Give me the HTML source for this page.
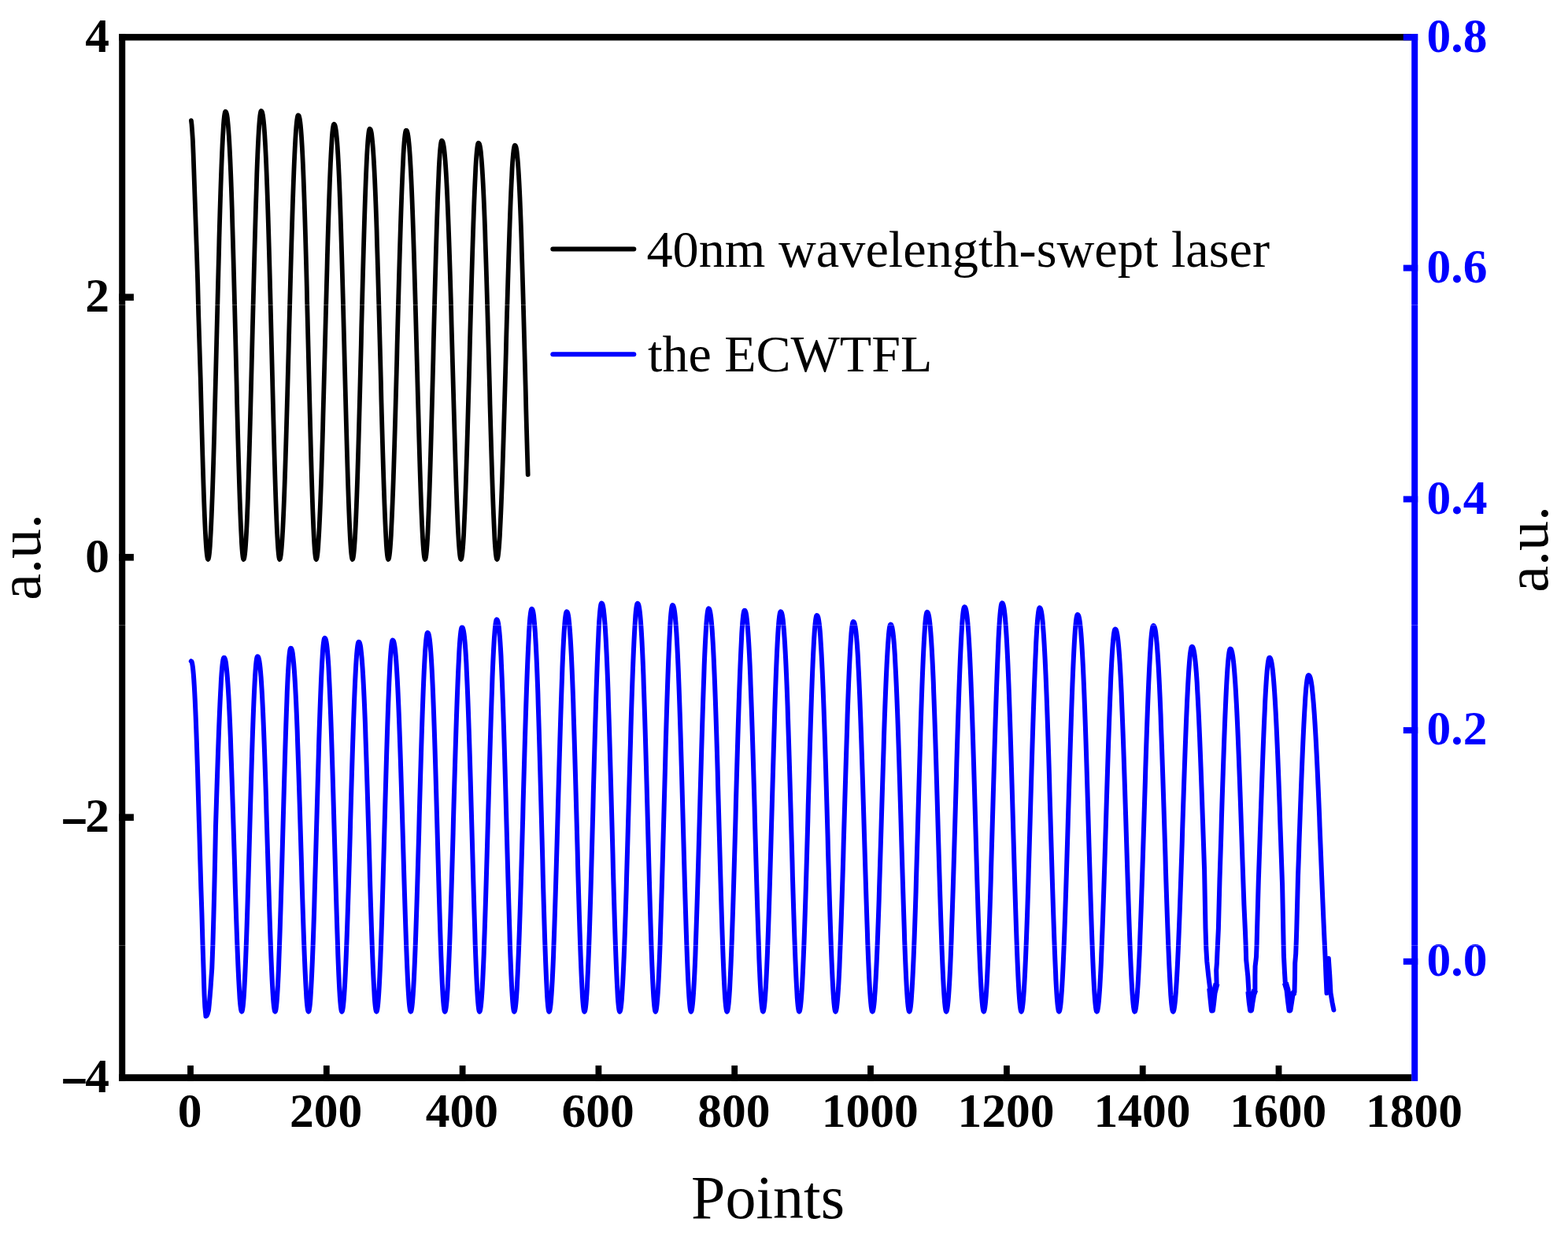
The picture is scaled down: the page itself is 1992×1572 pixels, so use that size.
<!DOCTYPE html>
<html><head><meta charset="utf-8"><title>Points vs a.u.</title>
<style>html,body{margin:0;padding:0;background:#fff;}body{width:1992px;height:1572px;overflow:hidden;}svg{display:block;}</style>
</head><body>
<svg width="1992" height="1572" viewBox="0 0 1992 1572">
<rect width="1992" height="1572" fill="#fff"/>
<path d="M242.9 153.2L243.5 158.0 244.1 166.0 244.9 178.0 245.6 195.0 246.3 215.0 247.5 250.0 248.7 285.0 250.0 322.0 251.2 360.0 252.2 400.0 254.8 482.7 255.3 502.6 255.8 522.1 256.3 541.1 256.8 559.6 257.3 577.3 257.8 594.3 258.3 610.4 258.8 625.6 259.3 639.7 259.8 652.8 260.3 664.6 260.8 675.2 261.3 684.5 261.8 692.5 262.3 699.1 262.8 704.2 263.3 707.9 263.8 710.2 264.3 710.9 264.8 710.2 265.3 708.1 265.8 704.7 266.3 699.9 266.8 693.7 267.2 686.3 267.7 677.6 268.2 667.7 268.7 656.6 269.2 644.3 269.7 631.0 270.2 616.8 270.7 601.5 271.2 585.5 271.7 568.6 272.2 551.1 272.6 532.9 273.1 514.3 273.6 495.2 274.1 475.8 274.6 456.1 275.1 436.3 275.6 416.4 276.1 396.6 276.6 376.9 277.1 357.5 277.6 338.4 278.1 319.8 278.5 301.6 279.0 284.1 279.5 267.2 280.0 251.2 280.5 235.9 281.0 221.7 281.5 208.4 282.0 196.1 282.5 185.0 283.0 175.1 283.5 166.4 283.9 159.0 284.4 152.8 284.9 148.0 285.4 144.6 285.9 142.5 286.4 141.8 286.9 142.0 287.4 142.8 287.9 144.3 288.4 146.6 288.9 149.9 289.3 154.1 289.8 159.2 290.3 165.4 290.8 172.6 291.3 180.8 291.8 190.1 292.3 200.4 292.8 211.8 293.3 224.1 293.8 237.4 294.3 251.7 294.8 266.8 295.2 282.8 295.7 299.5 296.2 316.9 296.7 335.0 297.2 353.6 297.7 372.7 298.2 392.2 298.7 411.9 299.2 431.9 299.7 451.9 300.2 471.9 300.7 491.8 301.1 511.5 301.6 530.8 302.1 549.7 302.6 568.0 303.1 585.6 303.6 602.5 304.1 618.5 304.6 633.5 305.1 647.4 305.6 660.1 306.1 671.6 306.6 681.7 307.0 690.5 307.5 697.7 308.0 703.4 308.5 707.6 309.0 710.1 309.5 710.9 310.0 710.2 310.5 708.1 311.0 704.7 311.5 699.9 312.0 693.7 312.5 686.3 313.0 677.5 313.5 667.6 314.0 656.5 314.5 644.2 315.0 630.9 315.4 616.6 315.9 601.4 316.4 585.3 316.9 568.4 317.4 550.9 317.9 532.7 318.4 514.0 318.9 494.9 319.4 475.4 319.9 455.7 320.4 435.9 320.9 416.0 321.4 396.2 321.9 376.5 322.4 357.0 322.9 337.9 323.4 319.2 323.9 301.0 324.4 283.5 324.9 266.6 325.4 250.5 325.9 235.3 326.3 221.0 326.8 207.7 327.3 195.4 327.8 184.3 328.3 174.4 328.8 165.6 329.3 158.2 329.8 152.0 330.3 147.2 330.8 143.8 331.3 141.7 331.8 141.0 332.3 141.2 332.8 142.0 333.3 143.5 333.8 145.8 334.3 149.1 334.8 153.3 335.3 158.4 335.8 164.6 336.3 171.8 336.8 180.1 337.3 189.4 337.8 199.7 338.3 211.1 338.8 223.4 339.3 236.8 339.8 251.0 340.3 266.2 340.8 282.2 341.3 298.9 341.8 316.4 342.3 334.5 342.8 353.1 343.3 372.2 343.8 391.7 344.3 411.5 344.8 431.5 345.3 451.5 345.8 471.6 346.3 491.5 346.8 511.2 347.3 530.6 347.8 549.5 348.3 567.8 348.8 585.5 349.3 602.3 349.8 618.3 350.3 633.4 350.8 647.3 351.3 660.0 351.8 671.5 352.3 681.7 352.8 690.4 353.3 697.7 353.8 703.4 354.3 707.6 354.8 710.1 355.3 710.9 355.8 710.3 356.3 708.4 356.8 705.2 357.3 700.9 357.8 695.3 358.3 688.5 358.8 680.6 359.3 671.5 359.8 661.3 360.3 650.2 360.8 638.0 361.3 624.9 361.8 610.9 362.3 596.1 362.8 580.5 363.3 564.3 363.8 547.5 364.3 530.1 364.8 512.3 365.3 494.1 365.8 475.6 366.3 456.9 366.8 438.1 367.3 419.2 367.8 400.4 368.3 381.7 368.8 363.2 369.3 345.0 369.8 327.2 370.3 309.8 370.8 293.0 371.3 276.8 371.8 261.2 372.3 246.4 372.8 232.4 373.3 219.3 373.8 207.1 374.3 196.0 374.8 185.8 375.3 176.7 375.8 168.8 376.3 162.0 376.8 156.4 377.3 152.1 377.8 148.9 378.3 147.0 378.8 146.4 379.3 146.6 379.8 147.4 380.3 149.0 380.8 151.4 381.3 154.8 381.8 159.2 382.3 164.5 382.8 171.0 383.3 178.5 383.8 187.0 384.3 196.7 384.8 207.4 385.3 219.2 385.8 232.0 386.3 245.8 386.8 260.5 387.3 276.1 387.8 292.6 388.3 309.9 388.8 327.8 389.3 346.4 389.8 365.5 390.2 385.0 390.7 404.9 391.2 425.1 391.7 445.4 392.2 465.7 392.7 485.9 393.2 505.9 393.7 525.7 394.2 544.9 394.7 563.7 395.2 581.8 395.7 599.1 396.2 615.5 396.7 630.9 397.2 645.3 397.7 658.4 398.2 670.3 398.7 680.7 399.2 689.8 399.7 697.3 400.2 703.2 400.7 707.4 401.2 710.0 401.7 710.9 402.2 710.3 402.7 708.3 403.2 705.1 403.7 700.6 404.2 694.9 404.6 688.0 405.1 679.9 405.6 670.6 406.1 660.3 406.6 648.9 407.1 636.5 407.6 623.1 408.1 608.9 408.6 593.8 409.1 578.0 409.6 561.6 410.1 544.5 410.5 527.0 411.0 509.0 411.5 490.6 412.0 472.0 412.5 453.2 413.0 434.4 413.5 415.5 414.0 396.7 414.5 378.1 415.0 359.7 415.5 341.7 415.9 324.2 416.4 307.1 416.9 290.7 417.4 274.9 417.9 259.8 418.4 245.6 418.9 232.2 419.4 219.8 419.9 208.4 420.4 198.1 420.9 188.8 421.4 180.7 421.8 173.8 422.3 168.1 422.8 163.6 423.3 160.4 423.8 158.4 424.3 157.8 424.8 158.0 425.3 158.8 425.8 160.2 426.3 162.5 426.8 165.6 427.3 169.7 427.8 174.7 428.3 180.7 428.8 187.7 429.3 195.7 429.8 204.8 430.3 214.8 430.8 225.8 431.3 237.8 431.8 250.7 432.3 264.6 432.8 279.3 433.3 294.8 433.8 311.1 434.3 328.0 434.8 345.6 435.3 363.6 435.8 382.2 436.3 401.1 436.8 420.3 437.3 439.7 437.8 459.2 438.3 478.7 438.8 498.0 439.3 517.1 439.8 535.9 440.3 554.2 440.8 572.0 441.3 589.2 441.8 605.5 442.3 621.1 442.8 635.6 443.3 649.2 443.8 661.5 444.3 672.7 444.8 682.6 445.3 691.1 445.8 698.1 446.3 703.7 446.8 707.7 447.3 710.1 447.8 710.9 448.3 710.2 448.8 708.1 449.3 704.6 449.8 699.8 450.3 693.6 450.8 686.2 451.3 677.4 451.8 667.5 452.3 656.3 452.8 644.1 453.3 630.8 453.8 616.5 454.3 601.3 454.8 585.2 455.3 568.4 455.8 551.0 456.3 532.9 456.8 514.4 457.3 495.5 457.8 476.2 458.3 456.8 458.8 437.3 459.2 417.8 459.7 398.4 460.2 379.1 460.7 360.2 461.2 341.7 461.7 323.6 462.2 306.2 462.7 289.4 463.2 273.3 463.7 258.1 464.2 243.8 464.7 230.5 465.2 218.3 465.7 207.1 466.2 197.2 466.7 188.4 467.2 181.0 467.7 174.8 468.2 170.0 468.7 166.5 469.2 164.4 469.7 163.7 470.2 163.9 470.7 164.6 471.2 166.0 471.7 168.1 472.2 171.1 472.6 174.9 473.1 179.7 473.6 185.3 474.1 191.9 474.6 199.5 475.1 208.0 475.6 217.5 476.1 227.9 476.6 239.3 477.1 251.6 477.6 264.7 478.1 278.6 478.6 293.4 479.0 308.9 479.5 325.0 480.0 341.8 480.5 359.1 481.0 376.9 481.5 395.0 482.0 413.5 482.5 432.2 483.0 451.0 483.5 469.9 484.0 488.7 484.4 507.4 484.9 525.8 485.4 543.8 485.9 561.5 486.4 578.5 486.9 594.9 487.4 610.6 487.9 625.4 488.4 639.3 488.9 652.2 489.4 664.0 489.9 674.6 490.4 684.0 490.8 692.1 491.3 698.7 491.8 704.0 492.3 707.8 492.8 710.1 493.3 710.9 493.8 710.3 494.3 708.4 494.8 705.2 495.3 700.8 495.8 695.2 496.3 688.3 496.8 680.3 497.2 671.2 497.7 661.0 498.2 649.7 498.7 637.5 499.2 624.3 499.7 610.3 500.2 595.5 500.7 579.9 501.2 563.7 501.7 546.9 502.2 529.6 502.7 511.8 503.2 493.7 503.7 475.4 504.2 456.9 504.6 438.3 505.1 419.6 505.6 401.1 506.1 382.8 506.6 364.7 507.1 346.9 507.6 329.6 508.1 312.8 508.6 296.6 509.1 281.0 509.6 266.2 510.1 252.2 510.6 239.0 511.1 226.8 511.6 215.5 512.1 205.3 512.5 196.2 513.0 188.2 513.5 181.3 514.0 175.7 514.5 171.3 515.0 168.1 515.5 166.2 516.0 165.6 516.5 165.8 517.0 166.5 517.5 167.9 518.0 170.0 518.5 173.0 519.0 176.8 519.5 181.5 520.0 187.1 520.5 193.7 521.0 201.3 521.5 209.8 522.0 219.2 522.5 229.6 523.0 240.9 523.5 253.2 524.0 266.2 524.5 280.1 525.0 294.8 525.5 310.3 526.0 326.4 526.5 343.1 527.0 360.3 527.5 378.0 528.0 396.1 528.5 414.5 529.0 433.2 529.5 451.9 530.0 470.7 530.5 489.5 531.0 508.1 531.5 526.4 532.0 544.4 532.5 562.0 533.0 579.0 533.5 595.3 534.0 610.9 534.5 625.7 535.0 639.6 535.5 652.4 536.0 664.2 536.5 674.7 537.0 684.1 537.5 692.1 538.0 698.8 538.5 704.0 539.0 707.8 539.5 710.1 540.0 710.9 540.5 710.2 541.0 708.1 541.5 704.5 542.0 699.6 542.5 693.3 543.0 685.7 543.5 676.9 543.9 666.7 544.4 655.4 544.9 643.0 545.4 629.5 545.9 615.0 546.4 599.7 546.9 583.4 547.4 566.5 547.9 548.9 548.4 530.8 548.9 512.1 549.4 493.2 549.9 473.9 550.4 454.6 550.8 435.1 551.3 415.8 551.8 396.5 552.3 377.6 552.8 358.9 553.3 340.8 553.8 323.2 554.3 306.3 554.8 290.0 555.3 274.7 555.8 260.2 556.3 246.7 556.8 234.3 557.3 223.0 557.7 212.8 558.2 204.0 558.7 196.4 559.2 190.1 559.7 185.2 560.2 181.6 560.7 179.5 561.2 178.8 561.7 179.0 562.2 179.6 562.7 180.9 563.2 182.9 563.7 185.7 564.2 189.2 564.7 193.6 565.2 198.9 565.7 205.0 566.2 212.0 566.7 220.0 567.2 228.8 567.7 238.5 568.2 249.1 568.7 260.5 569.2 272.7 569.7 285.8 570.2 299.6 570.7 314.0 571.2 329.2 571.7 344.9 572.2 361.2 572.7 377.9 573.2 395.1 573.6 412.5 574.1 430.2 574.6 448.1 575.1 466.1 575.6 484.0 576.1 501.9 576.6 519.6 577.1 537.0 577.6 554.1 578.1 570.7 578.6 586.8 579.1 602.2 579.6 617.0 580.1 630.9 580.6 643.9 581.1 656.0 581.6 667.1 582.1 677.0 582.6 685.8 583.1 693.3 583.6 699.6 584.1 704.5 584.6 708.0 585.1 710.2 585.6 710.9 586.1 710.3 586.6 708.3 587.1 705.1 587.6 700.6 588.1 694.9 588.6 688.0 589.1 679.9 589.5 670.7 590.0 660.4 590.5 649.0 591.0 636.6 591.5 623.4 592.0 609.2 592.5 594.3 593.0 578.6 593.5 562.3 594.0 545.4 594.5 528.1 595.0 510.3 595.5 492.2 596.0 474.0 596.5 455.5 596.9 437.1 597.4 418.6 597.9 400.4 598.4 382.3 598.9 364.5 599.4 347.2 599.9 330.3 600.4 314.0 600.9 298.3 601.4 283.4 601.9 269.2 602.4 256.0 602.9 243.6 603.4 232.2 603.9 221.9 604.3 212.7 604.8 204.6 605.3 197.7 605.8 192.0 606.3 187.5 606.8 184.3 607.3 182.3 607.8 181.7 608.3 181.9 608.8 182.6 609.3 183.9 609.8 186.0 610.3 188.9 610.8 192.6 611.2 197.1 611.7 202.6 612.2 209.0 612.7 216.3 613.2 224.6 613.7 233.7 614.2 243.8 614.7 254.8 615.2 266.7 615.7 279.4 616.2 292.9 616.6 307.1 617.1 322.1 617.6 337.7 618.1 353.9 618.6 370.7 619.1 387.9 619.6 405.4 620.1 423.3 620.6 441.4 621.1 459.6 621.6 477.8 622.1 496.0 622.5 514.1 623.0 531.9 623.5 549.3 624.0 566.4 624.5 582.9 625.0 598.7 625.5 613.9 626.0 628.2 626.5 641.7 627.0 654.1 627.5 665.5 628.0 675.8 628.4 684.9 628.9 692.7 629.4 699.1 629.9 704.2 630.4 707.9 630.9 710.2 631.4 710.9 631.9 710.3 632.4 708.4 632.9 705.4 633.4 701.1 633.9 695.7 634.4 689.1 634.9 681.4 635.3 672.6 635.8 662.7 636.3 651.9 636.8 640.1 637.3 627.4 637.8 613.8 638.3 599.5 638.8 584.5 639.3 568.8 639.8 552.6 640.3 535.9 640.8 518.8 641.3 501.3 641.8 483.6 642.3 465.8 642.8 447.8 643.2 429.8 643.7 412.0 644.2 394.3 644.7 376.8 645.2 359.7 645.7 343.0 646.2 326.8 646.7 311.1 647.2 296.1 647.7 281.8 648.2 268.2 648.7 255.5 649.2 243.7 649.7 232.9 650.2 223.0 650.6 214.2 651.1 206.5 651.6 199.9 652.1 194.5 652.6 190.2 653.1 187.2 653.6 185.3 654.1 184.7 654.6 184.9 655.1 185.7 655.6 187.1 656.1 189.4 656.6 192.5 657.0 196.6 657.5 201.6 658.0 207.6 658.5 214.6 659.0 222.6 659.5 231.6 660.0 241.6 660.5 252.5 661.0 264.5 661.5 277.3 662.0 291.1 662.5 305.6 662.9 321.0 663.4 337.1 663.9 353.8 664.4 371.1 664.9 388.9 665.4 407.2 665.9 425.7 666.4 444.5 666.9 463.4 667.4 482.3 667.9 501.2 668.3 519.8 668.8 538.2 669.3 556.2 669.8 573.7 670.3 590.5 670.7 603.2" fill="none" stroke="#000" stroke-width="5.8" stroke-linejoin="round" stroke-linecap="round"/>
<path d="M242.8 840.2L243.3 840.5 243.8 841.7 244.3 843.9 244.8 847.2 245.3 851.6 245.8 857.1 246.3 863.8 246.8 871.7 247.3 880.7 247.8 890.9 248.3 902.1 248.8 914.4 249.3 927.7 249.8 941.9 250.3 957.0 250.8 972.9 251.3 989.4 251.8 1006.5 252.3 1024.0 252.8 1042.0 253.1 1050.0 254.2 1090.0 255.4 1130.0 256.4 1160.0 257.5 1200.0 258.5 1230.0 259.1 1250.0 259.6 1265.0 260.4 1280.0 261.5 1291.5 262.6 1290.8 263.8 1288.2 265.0 1284.0 265.8 1276.0 266.6 1267.0 267.5 1256.0 268.4 1243.0 269.3 1230.0 270.4 1200.0 271.4 1165.0 272.3 1130.0 273.2 1090.0 274.0 1050.0 274.6 1031.0 275.1 1015.0 275.6 999.2 276.1 983.8 276.6 968.8 277.1 954.3 277.6 940.3 278.1 926.9 278.6 914.3 279.1 902.4 279.6 891.3 280.1 881.1 280.6 871.8 281.0 863.6 281.5 856.3 282.0 850.1 282.5 844.9 283.0 840.9 283.5 838.0 284.0 836.3 284.5 835.7 285.0 835.9 285.5 836.5 286.0 837.8 286.5 839.7 287.0 842.4 287.4 845.9 287.9 850.2 288.4 855.3 288.9 861.2 289.4 868.1 289.9 875.8 290.4 884.3 290.9 893.7 291.4 903.9 291.9 914.9 292.4 926.6 292.9 939.1 293.3 952.2 293.8 966.0 294.3 980.3 294.8 995.1 295.3 1010.3 295.8 1025.9 296.3 1041.8 296.8 1057.8 297.3 1074.0 297.8 1090.2 298.3 1106.3 298.7 1122.2 299.2 1138.0 299.7 1153.3 300.2 1168.3 300.7 1182.7 301.2 1196.5 301.7 1209.6 302.2 1221.9 302.7 1233.3 303.2 1243.8 303.7 1253.2 304.2 1261.6 304.6 1268.8 305.1 1274.7 305.6 1279.4 306.1 1282.8 306.6 1284.9 307.1 1285.6 307.6 1284.9 308.1 1282.8 308.6 1279.4 309.1 1274.6 309.6 1268.4 310.1 1261.0 310.6 1252.3 311.1 1242.5 311.6 1231.5 312.1 1219.5 312.6 1206.5 313.1 1192.6 313.6 1177.8 314.1 1162.4 314.6 1146.3 315.1 1129.6 315.6 1112.6 316.1 1095.2 316.6 1077.6 317.1 1059.9 317.6 1042.2 318.1 1024.6 318.6 1007.2 319.1 990.2 319.6 973.5 320.1 957.4 320.6 942.0 321.1 927.2 321.6 913.3 322.1 900.3 322.6 888.3 323.1 877.3 323.6 867.5 324.1 858.8 324.6 851.4 325.1 845.2 325.6 840.4 326.1 837.0 326.6 834.9 327.1 834.2 327.6 834.4 328.1 835.1 328.6 836.4 329.1 838.4 329.6 841.3 330.1 844.9 330.6 849.4 331.1 854.8 331.6 861.1 332.1 868.3 332.6 876.4 333.1 885.4 333.6 895.3 334.1 906.0 334.6 917.5 335.1 929.8 335.6 942.9 336.1 956.6 336.6 970.9 337.1 985.8 337.6 1001.2 338.1 1017.0 338.5 1033.1 339.0 1049.5 339.5 1066.0 340.0 1082.6 340.5 1099.2 341.0 1115.7 341.5 1131.9 342.0 1147.8 342.5 1163.3 343.0 1178.2 343.5 1192.6 344.0 1206.2 344.5 1219.0 345.0 1230.9 345.5 1241.8 346.0 1251.7 346.5 1260.4 347.0 1268.0 347.5 1274.2 348.0 1279.2 348.5 1282.7 349.0 1284.9 349.5 1285.6 350.0 1284.9 350.5 1282.8 351.0 1279.2 351.5 1274.3 352.0 1268.0 352.5 1260.4 353.0 1251.6 353.5 1241.5 354.0 1230.3 354.4 1218.0 354.9 1204.6 355.4 1190.4 355.9 1175.3 356.4 1159.5 356.9 1143.0 357.4 1126.0 357.9 1108.6 358.4 1090.8 358.9 1072.8 359.4 1054.7 359.9 1036.5 360.4 1018.5 360.9 1000.7 361.4 983.3 361.9 966.3 362.4 949.8 362.9 934.0 363.4 918.9 363.9 904.7 364.4 891.3 364.8 879.0 365.3 867.8 365.8 857.7 366.3 848.9 366.8 841.3 367.3 835.0 367.8 830.1 368.3 826.5 368.8 824.4 369.3 823.7 369.8 823.9 370.3 824.5 370.8 825.8 371.3 827.8 371.8 830.6 372.2 834.1 372.7 838.5 373.2 843.8 373.7 849.9 374.2 856.9 374.7 864.8 375.2 873.6 375.7 883.3 376.2 893.7 376.7 905.0 377.2 917.1 377.7 929.9 378.1 943.3 378.6 957.5 379.1 972.1 379.6 987.3 380.1 1003.0 380.6 1019.0 381.1 1035.2 381.6 1051.7 382.1 1068.3 382.6 1084.9 383.1 1101.5 383.5 1117.9 384.0 1134.0 384.5 1149.8 385.0 1165.1 385.5 1179.9 386.0 1194.1 386.5 1207.5 387.0 1220.2 387.5 1231.9 388.0 1242.7 388.5 1252.4 389.0 1260.9 389.4 1268.3 389.9 1274.4 390.4 1279.3 390.9 1282.8 391.4 1284.9 391.9 1285.6 392.4 1284.9 392.9 1282.9 393.4 1279.6 393.9 1275.1 394.4 1269.2 394.8 1262.1 395.3 1253.8 395.8 1244.4 396.3 1233.8 396.8 1222.2 397.3 1209.7 397.8 1196.2 398.3 1182.0 398.8 1166.9 399.3 1151.2 399.7 1135.0 400.2 1118.2 400.7 1101.1 401.2 1083.6 401.7 1066.0 402.2 1048.2 402.7 1030.5 403.2 1012.9 403.7 995.4 404.2 978.3 404.7 961.5 405.1 945.3 405.6 929.6 406.1 914.5 406.6 900.3 407.1 886.8 407.6 874.3 408.1 862.7 408.6 852.1 409.1 842.7 409.6 834.4 410.0 827.3 410.5 821.4 411.0 816.9 411.5 813.6 412.0 811.6 412.5 810.9 413.0 811.1 413.5 811.9 414.0 813.3 414.5 815.6 415.0 818.7 415.5 822.8 416.0 827.8 416.5 833.7 417.0 840.7 417.5 848.6 417.9 857.6 418.4 867.5 418.9 878.4 419.4 890.2 419.9 902.8 420.4 916.3 420.9 930.7 421.4 945.7 421.9 961.4 422.4 977.6 422.9 994.4 423.4 1011.6 423.9 1029.1 424.4 1046.8 424.9 1064.6 425.4 1082.5 425.9 1100.2 426.4 1117.8 426.9 1135.0 427.4 1151.8 427.9 1168.1 428.4 1183.7 428.9 1198.6 429.3 1212.6 429.8 1225.6 430.3 1237.6 430.8 1248.4 431.3 1258.0 431.8 1266.2 432.3 1273.1 432.8 1278.5 433.3 1282.4 433.8 1284.8 434.3 1285.6 434.8 1285.0 435.3 1283.1 435.8 1280.0 436.3 1275.6 436.8 1270.1 437.3 1263.4 437.8 1255.5 438.3 1246.6 438.8 1236.6 439.3 1225.6 439.8 1213.7 440.3 1200.9 440.8 1187.4 441.3 1173.0 441.8 1158.1 442.3 1142.5 442.8 1126.5 443.3 1110.1 443.8 1093.3 444.3 1076.3 444.8 1059.2 445.2 1042.1 445.7 1025.0 446.2 1008.0 446.7 991.2 447.2 974.8 447.7 958.8 448.2 943.2 448.7 928.3 449.2 913.9 449.7 900.4 450.2 887.6 450.7 875.7 451.2 864.7 451.7 854.7 452.2 845.8 452.7 837.9 453.2 831.2 453.7 825.7 454.2 821.3 454.7 818.2 455.2 816.3 455.7 815.7 456.2 815.9 456.7 816.6 457.2 817.9 457.7 819.9 458.2 822.7 458.6 826.3 459.1 830.8 459.6 836.1 460.1 842.4 460.6 849.5 461.1 857.6 461.6 866.5 462.1 876.3 462.6 886.9 463.1 898.4 463.6 910.7 464.1 923.7 464.5 937.4 465.0 951.8 465.5 966.7 466.0 982.2 466.5 998.1 467.0 1014.4 467.5 1030.9 468.0 1047.7 468.5 1064.6 469.0 1081.5 469.5 1098.3 469.9 1115.0 470.4 1131.4 470.9 1147.5 471.4 1163.1 471.9 1178.1 472.4 1192.5 472.9 1206.2 473.4 1219.0 473.9 1231.0 474.4 1241.9 474.9 1251.8 475.4 1260.5 475.8 1268.0 476.3 1274.3 476.8 1279.2 477.3 1282.7 477.8 1284.9 478.3 1285.6 478.8 1284.9 479.3 1282.8 479.8 1279.4 480.3 1274.6 480.8 1268.5 481.3 1261.1 481.8 1252.5 482.3 1242.6 482.8 1231.7 483.3 1219.6 483.8 1206.6 484.3 1192.6 484.8 1177.9 485.3 1162.3 485.8 1146.1 486.3 1129.3 486.8 1112.1 487.3 1094.5 487.8 1076.6 488.3 1058.6 488.8 1040.5 489.3 1022.5 489.8 1004.6 490.3 987.0 490.8 969.8 491.3 953.0 491.8 936.8 492.3 921.2 492.8 906.5 493.3 892.5 493.8 879.5 494.3 867.4 494.8 856.5 495.3 846.6 495.8 838.0 496.3 830.6 496.8 824.5 497.3 819.7 497.8 816.3 498.3 814.2 498.8 813.5 499.3 813.7 499.8 814.4 500.3 815.7 500.8 817.7 501.3 820.5 501.8 824.2 502.3 828.7 502.8 834.0 503.3 840.3 503.8 847.5 504.3 855.6 504.8 864.5 505.3 874.4 505.8 885.1 506.3 896.6 506.8 908.9 507.3 922.0 507.8 935.8 508.3 950.2 508.8 965.2 509.3 980.8 509.8 996.7 510.3 1013.1 510.8 1029.7 511.3 1046.6 511.8 1063.5 512.3 1080.5 512.8 1097.4 513.3 1114.2 513.8 1130.7 514.3 1146.8 514.8 1162.5 515.3 1177.6 515.8 1192.1 516.3 1205.8 516.8 1218.7 517.3 1230.7 517.8 1241.7 518.3 1251.6 518.8 1260.4 519.3 1267.9 519.8 1274.2 520.3 1279.1 520.8 1282.7 521.3 1284.9 521.8 1285.6 522.3 1285.0 522.8 1283.0 523.3 1279.8 523.8 1275.4 524.3 1269.7 524.8 1262.8 525.3 1254.8 525.8 1245.6 526.3 1235.4 526.8 1224.1 527.3 1211.9 527.8 1198.8 528.3 1184.9 528.8 1170.2 529.3 1154.9 529.8 1139.0 530.3 1122.5 530.8 1105.7 531.3 1088.5 531.8 1071.1 532.3 1053.6 532.7 1036.0 533.2 1018.5 533.7 1001.1 534.2 983.9 534.7 967.1 535.2 950.6 535.7 934.7 536.2 919.4 536.7 904.7 537.2 890.8 537.7 877.7 538.2 865.5 538.7 854.2 539.2 844.0 539.7 834.8 540.2 826.8 540.7 819.9 541.2 814.2 541.7 809.8 542.2 806.6 542.7 804.6 543.2 804.0 543.7 804.2 544.2 805.0 544.7 806.5 545.2 808.8 545.7 811.9 546.2 816.1 546.7 821.1 547.2 827.2 547.7 834.2 548.2 842.3 548.7 851.4 549.2 861.4 549.7 872.4 550.2 884.4 550.7 897.3 551.2 911.0 551.7 925.5 552.2 940.7 552.7 956.7 553.2 973.2 553.7 990.2 554.2 1007.6 554.7 1025.3 555.2 1043.3 555.7 1061.4 556.2 1079.5 556.7 1097.5 557.2 1115.4 557.7 1132.8 558.2 1149.9 558.7 1166.4 559.2 1182.2 559.7 1197.3 560.2 1211.5 560.7 1224.7 561.2 1236.9 561.7 1247.8 562.2 1257.6 562.7 1265.9 563.2 1272.9 563.7 1278.4 564.2 1282.4 564.7 1284.8 565.2 1285.6 565.7 1285.0 566.2 1283.1 566.7 1280.0 567.2 1275.7 567.7 1270.2 568.2 1263.5 568.7 1255.7 569.1 1246.8 569.6 1236.9 570.1 1226.0 570.6 1214.1 571.1 1201.3 571.6 1187.7 572.1 1173.4 572.6 1158.4 573.1 1142.8 573.6 1126.7 574.1 1110.2 574.6 1093.3 575.1 1076.2 575.6 1058.8 576.0 1041.4 576.5 1024.0 577.0 1006.6 577.5 989.5 578.0 972.6 578.5 956.1 579.0 940.0 579.5 924.4 580.0 909.4 580.5 895.1 581.0 881.5 581.5 868.7 582.0 856.8 582.5 845.9 583.0 836.0 583.4 827.1 583.9 819.3 584.4 812.6 584.9 807.1 585.4 802.8 585.9 799.7 586.4 797.8 586.9 797.2 587.4 797.4 587.9 798.1 588.4 799.6 588.9 801.8 589.4 804.9 589.9 808.8 590.4 813.7 590.9 819.5 591.4 826.3 591.9 834.1 592.4 842.9 592.8 852.6 593.3 863.3 593.8 874.9 594.3 887.3 594.8 900.7 595.3 914.8 595.8 929.6 596.3 945.1 596.8 961.2 597.3 977.9 597.8 995.0 598.3 1012.4 598.8 1030.2 599.3 1048.1 599.8 1066.0 600.3 1083.9 600.8 1101.7 601.3 1119.3 601.8 1136.5 602.3 1153.2 602.8 1169.4 603.3 1184.9 603.7 1199.7 604.2 1213.5 604.7 1226.4 605.2 1238.3 605.7 1248.9 606.2 1258.4 606.7 1266.5 607.2 1273.3 607.7 1278.6 608.2 1282.5 608.7 1284.8 609.2 1285.6 609.7 1285.0 610.2 1283.1 610.7 1279.9 611.2 1275.5 611.7 1269.9 612.2 1263.1 612.7 1255.1 613.2 1246.1 613.7 1235.9 614.2 1224.8 614.7 1212.6 615.1 1199.6 615.6 1185.8 616.1 1171.2 616.6 1155.9 617.1 1140.0 617.6 1123.6 618.1 1106.7 618.6 1089.5 619.1 1072.0 619.6 1054.3 620.1 1036.5 620.6 1018.7 621.1 1001.0 621.6 983.5 622.1 966.3 622.6 949.4 623.1 933.0 623.6 917.1 624.1 901.8 624.6 887.2 625.1 873.4 625.5 860.4 626.0 848.2 626.5 837.1 627.0 826.9 627.5 817.9 628.0 809.9 628.5 803.1 629.0 797.5 629.5 793.1 630.0 789.9 630.5 788.0 631.0 787.4 631.5 787.6 632.0 788.4 632.5 789.8 633.0 792.1 633.5 795.2 634.0 799.2 634.5 804.2 635.0 810.2 635.5 817.1 636.0 825.1 636.5 834.0 636.9 843.9 637.4 854.8 637.9 866.6 638.4 879.3 638.9 892.9 639.4 907.3 639.9 922.5 640.4 938.3 640.9 954.7 641.4 971.7 641.9 989.2 642.4 1007.0 642.9 1025.0 643.4 1043.3 643.9 1061.6 644.4 1079.9 644.9 1098.1 645.4 1116.0 645.9 1133.5 646.4 1150.6 646.9 1167.1 647.4 1182.9 647.8 1197.9 648.3 1212.1 648.8 1225.2 649.3 1237.3 649.8 1248.2 650.3 1257.8 650.8 1266.1 651.3 1273.0 651.8 1278.5 652.3 1282.4 652.8 1284.8 653.3 1285.6 653.8 1285.0 654.3 1283.1 654.8 1280.0 655.3 1275.7 655.8 1270.2 656.3 1263.5 656.8 1255.7 657.2 1246.7 657.7 1236.7 658.2 1225.7 658.7 1213.8 659.2 1200.9 659.7 1187.3 660.2 1172.8 660.7 1157.7 661.2 1141.9 661.7 1125.6 662.2 1108.8 662.7 1091.6 663.2 1074.2 663.7 1056.5 664.2 1038.7 664.6 1020.8 665.1 1003.0 665.6 985.3 666.1 967.9 666.6 950.7 667.1 933.9 667.6 917.6 668.1 901.8 668.6 886.7 669.1 872.2 669.6 858.6 670.1 845.7 670.6 833.8 671.1 822.8 671.6 812.8 672.0 803.8 672.5 796.0 673.0 789.3 673.5 783.8 674.0 779.5 674.5 776.4 675.0 774.5 675.5 773.9 676.0 774.1 676.5 774.9 677.0 776.4 677.5 778.7 678.0 781.9 678.4 786.1 678.9 791.2 679.4 797.3 679.9 804.4 680.4 812.6 680.9 821.8 681.4 832.0 681.9 843.1 682.4 855.3 682.9 868.3 683.4 882.3 683.8 897.1 684.3 912.6 684.8 928.9 685.3 945.8 685.8 963.2 686.3 981.1 686.8 999.4 687.3 1018.0 687.8 1036.7 688.3 1055.5 688.8 1074.3 689.3 1093.0 689.7 1111.4 690.2 1129.4 690.7 1146.9 691.2 1163.9 691.7 1180.1 692.2 1195.6 692.7 1210.1 693.2 1223.6 693.7 1236.0 694.2 1247.2 694.7 1257.1 695.1 1265.6 695.6 1272.7 696.1 1278.3 696.6 1282.3 697.1 1284.8 697.6 1285.6 698.1 1285.0 698.6 1283.1 699.1 1280.0 699.6 1275.8 700.1 1270.3 700.6 1263.6 701.1 1255.9 701.6 1247.0 702.1 1237.1 702.6 1226.1 703.1 1214.3 703.5 1201.5 704.0 1187.9 704.5 1173.6 705.0 1158.5 705.5 1142.9 706.0 1126.7 706.5 1110.0 707.0 1092.9 707.5 1075.6 708.0 1058.0 708.5 1040.3 709.0 1022.6 709.5 1004.9 710.0 987.3 710.5 970.0 711.0 952.9 711.5 936.2 712.0 920.0 712.5 904.4 713.0 889.3 713.5 875.0 714.0 861.4 714.4 848.6 714.9 836.8 715.4 825.8 715.9 815.9 716.4 807.0 716.9 799.3 717.4 792.6 717.9 787.1 718.4 782.9 718.9 779.8 719.4 777.9 719.9 777.3 720.4 777.5 720.9 778.2 721.4 779.6 721.9 781.8 722.4 784.9 722.8 788.8 723.3 793.6 723.8 799.4 724.3 806.2 724.8 813.9 725.3 822.6 725.8 832.2 726.3 842.8 726.8 854.4 727.3 866.8 727.8 880.0 728.3 894.1 728.7 909.0 729.2 924.5 729.7 940.7 730.2 957.4 730.7 974.6 731.2 992.2 731.7 1010.1 732.2 1028.2 732.7 1046.5 733.2 1064.8 733.7 1083.0 734.1 1101.0 734.6 1118.8 735.1 1136.2 735.6 1153.0 736.1 1169.3 736.6 1184.9 737.1 1199.7 737.6 1213.6 738.1 1226.5 738.6 1238.3 739.1 1249.0 739.6 1258.4 740.0 1266.6 740.5 1273.3 741.0 1278.6 741.5 1282.5 742.0 1284.8 742.5 1285.6 743.0 1284.9 743.5 1283.0 744.0 1279.7 744.5 1275.1 745.0 1269.2 745.5 1262.1 746.0 1253.9 746.4 1244.4 746.9 1233.8 747.4 1222.2 747.9 1209.6 748.4 1196.0 748.9 1181.6 749.4 1166.4 749.9 1150.4 750.4 1133.9 750.9 1116.8 751.4 1099.2 751.9 1081.2 752.4 1063.0 752.9 1044.6 753.4 1026.0 753.8 1007.5 754.3 989.1 754.8 970.9 755.3 952.9 755.8 935.3 756.3 918.2 756.8 901.7 757.3 885.7 757.8 870.5 758.3 856.1 758.8 842.5 759.3 829.9 759.8 818.3 760.3 807.7 760.7 798.2 761.2 790.0 761.7 782.9 762.2 777.0 762.7 772.4 763.2 769.1 763.7 767.2 764.2 766.5 764.7 766.7 765.2 767.4 765.7 768.8 766.2 770.9 766.7 773.9 767.1 777.7 767.6 782.4 768.1 788.0 768.6 794.6 769.1 802.1 769.6 810.6 770.1 820.0 770.6 830.3 771.1 841.6 771.6 853.7 772.1 866.7 772.6 880.5 773.0 895.1 773.5 910.3 774.0 926.2 774.5 942.7 775.0 959.7 775.5 977.1 776.0 994.9 776.5 1012.9 777.0 1031.1 777.5 1049.4 778.0 1067.6 778.5 1085.8 778.9 1103.7 779.4 1121.3 779.9 1138.6 780.4 1155.3 780.9 1171.3 781.4 1186.7 781.9 1201.3 782.4 1215.0 782.9 1227.7 783.4 1239.3 783.9 1249.8 784.4 1259.0 784.8 1267.0 785.3 1273.6 785.8 1278.8 786.3 1282.6 786.8 1284.8 787.3 1285.6 787.8 1285.0 788.3 1283.2 788.8 1280.2 789.3 1276.0 789.8 1270.6 790.2 1264.1 790.7 1256.5 791.2 1247.8 791.7 1238.1 792.2 1227.4 792.7 1215.8 793.2 1203.3 793.7 1189.9 794.2 1175.8 794.7 1161.0 795.2 1145.5 795.7 1129.5 796.1 1113.1 796.6 1096.2 797.1 1079.0 797.6 1061.5 798.1 1043.9 798.6 1026.2 799.1 1008.5 799.6 990.9 800.1 973.4 800.6 956.2 801.1 939.3 801.5 922.9 802.0 906.9 802.5 891.4 803.0 876.6 803.5 862.5 804.0 849.1 804.5 836.6 805.0 825.0 805.5 814.3 806.0 804.6 806.5 795.9 807.0 788.3 807.4 781.8 807.9 776.4 808.4 772.2 808.9 769.2 809.4 767.4 809.9 766.8 810.4 767.0 810.9 767.7 811.4 769.2 811.9 771.4 812.4 774.5 812.9 778.5 813.4 783.5 813.9 789.4 814.4 796.3 814.9 804.1 815.4 813.0 815.9 822.9 816.4 833.7 816.9 845.5 817.4 858.1 817.8 871.7 818.3 886.0 818.8 901.2 819.3 917.0 819.8 933.5 820.3 950.6 820.8 968.2 821.3 986.1 821.8 1004.4 822.3 1022.9 822.8 1041.6 823.3 1060.2 823.8 1078.8 824.3 1097.2 824.8 1115.3 825.3 1133.1 825.8 1150.3 826.3 1166.9 826.8 1182.8 827.3 1197.9 827.8 1212.1 828.3 1225.3 828.8 1237.4 829.3 1248.3 829.8 1257.9 830.3 1266.2 830.8 1273.1 831.3 1278.5 831.8 1282.4 832.3 1284.8 832.8 1285.6 833.2 1284.9 833.7 1283.0 834.2 1279.7 834.7 1275.1 835.2 1269.3 835.7 1262.3 836.2 1254.0 836.7 1244.6 837.2 1234.1 837.7 1222.5 838.2 1210.0 838.7 1196.5 839.1 1182.1 839.6 1167.0 840.1 1151.1 840.6 1134.6 841.1 1117.6 841.6 1100.1 842.1 1082.2 842.6 1064.1 843.1 1045.8 843.6 1027.3 844.1 1008.9 844.6 990.6 845.1 972.5 845.5 954.6 846.0 937.1 846.5 920.1 847.0 903.6 847.5 887.7 848.0 872.6 848.5 858.2 849.0 844.7 849.5 832.2 850.0 820.6 850.5 810.1 851.0 800.7 851.4 792.4 851.9 785.4 852.4 779.6 852.9 775.0 853.4 771.7 853.9 769.8 854.4 769.1 854.9 769.3 855.4 770.0 855.9 771.4 856.4 773.5 856.9 776.4 857.4 780.2 857.9 784.9 858.4 790.5 858.9 797.0 859.4 804.5 859.9 813.0 860.4 822.3 860.9 832.6 861.4 843.8 861.9 855.9 862.4 868.8 862.9 882.5 863.4 897.0 863.9 912.2 864.4 928.0 864.9 944.4 865.4 961.3 865.9 978.7 866.4 996.3 866.9 1014.3 867.4 1032.4 867.9 1050.6 868.4 1068.7 868.9 1086.8 869.4 1104.6 869.9 1122.2 870.4 1139.3 870.9 1155.9 871.4 1171.9 871.9 1187.2 872.4 1201.7 872.9 1215.3 873.4 1227.9 873.9 1239.5 874.4 1249.9 874.9 1259.1 875.4 1267.1 875.9 1273.6 876.4 1278.8 876.9 1282.6 877.4 1284.8 877.9 1285.6 878.4 1285.0 878.9 1283.1 879.4 1280.0 879.9 1275.7 880.4 1270.2 880.9 1263.5 881.4 1255.6 881.9 1246.7 882.4 1236.7 882.9 1225.7 883.4 1213.7 883.8 1200.9 884.3 1187.2 884.8 1172.7 885.3 1157.5 885.8 1141.8 886.3 1125.4 886.8 1108.6 887.3 1091.5 887.8 1074.0 888.3 1056.3 888.8 1038.4 889.3 1020.6 889.8 1002.7 890.3 985.0 890.8 967.5 891.3 950.4 891.8 933.6 892.3 917.2 892.8 901.5 893.3 886.3 893.8 871.8 894.3 858.1 894.7 845.3 895.2 833.3 895.7 822.3 896.2 812.3 896.7 803.4 897.2 795.5 897.7 788.8 898.2 783.3 898.7 779.0 899.2 775.9 899.7 774.0 900.2 773.4 900.7 773.6 901.2 774.3 901.7 775.7 902.2 777.8 902.7 780.7 903.2 784.4 903.7 789.1 904.2 794.6 904.7 801.1 905.2 808.5 905.7 816.9 906.2 826.2 906.7 836.4 907.2 847.5 907.7 859.5 908.2 872.3 908.7 885.9 909.2 900.3 909.7 915.3 910.2 931.0 910.7 947.3 911.2 964.0 911.7 981.2 912.1 998.7 912.6 1016.5 913.1 1034.5 913.6 1052.5 914.1 1070.5 914.6 1088.4 915.1 1106.1 915.6 1123.5 916.1 1140.5 916.6 1157.0 917.1 1172.9 917.6 1188.0 918.1 1202.4 918.6 1215.9 919.1 1228.4 919.6 1239.9 920.1 1250.2 920.6 1259.4 921.1 1267.2 921.6 1273.7 922.1 1278.9 922.6 1282.6 923.1 1284.8 923.6 1285.6 924.1 1285.0 924.6 1283.1 925.1 1280.0 925.6 1275.7 926.1 1270.2 926.6 1263.6 927.1 1255.8 927.5 1246.9 928.0 1236.9 928.5 1226.0 929.0 1214.0 929.5 1201.2 930.0 1187.6 930.5 1173.2 931.0 1158.1 931.5 1142.4 932.0 1126.2 932.5 1109.4 933.0 1092.3 933.5 1074.9 934.0 1057.3 934.5 1039.5 934.9 1021.8 935.4 1004.0 935.9 986.4 936.4 969.0 936.9 951.9 937.4 935.1 937.9 918.9 938.4 903.2 938.9 888.1 939.4 873.7 939.9 860.1 940.4 847.3 940.9 835.3 941.4 824.4 941.9 814.4 942.3 805.5 942.8 797.7 943.3 791.1 943.8 785.6 944.3 781.3 944.8 778.2 945.3 776.3 945.8 775.7 946.3 775.9 946.8 776.5 947.3 777.8 947.8 779.8 948.3 782.6 948.7 786.2 949.2 790.6 949.7 795.8 950.2 802.0 950.7 809.1 951.2 817.0 951.7 825.8 952.2 835.6 952.7 846.1 953.2 857.6 953.6 869.8 954.1 882.8 954.6 896.5 955.1 911.0 955.6 926.0 956.1 941.6 956.6 957.8 957.1 974.3 957.6 991.3 958.1 1008.5 958.6 1025.9 959.0 1043.5 959.5 1061.0 960.0 1078.6 960.5 1096.0 961.0 1113.1 961.5 1129.9 962.0 1146.3 962.5 1162.2 963.0 1177.5 963.5 1192.1 964.0 1205.9 964.4 1218.9 964.9 1230.9 965.4 1241.9 965.9 1251.8 966.4 1260.5 966.9 1268.0 967.4 1274.3 967.9 1279.2 968.4 1282.7 968.9 1284.9 969.4 1285.6 969.8 1285.0 970.3 1283.1 970.8 1280.0 971.3 1275.8 971.8 1270.3 972.3 1263.6 972.8 1255.9 973.3 1247.0 973.8 1237.1 974.3 1226.1 974.8 1214.3 975.3 1201.5 975.8 1187.9 976.3 1173.6 976.8 1158.5 977.3 1142.9 977.8 1126.7 978.3 1110.0 978.8 1092.9 979.3 1075.6 979.8 1058.0 980.3 1040.3 980.8 1022.6 981.3 1004.9 981.8 987.3 982.3 970.0 982.8 952.9 983.3 936.2 983.8 920.0 984.2 904.4 984.7 889.3 985.2 875.0 985.7 861.4 986.2 848.6 986.7 836.8 987.2 825.8 987.7 815.9 988.2 807.0 988.7 799.3 989.2 792.6 989.7 787.1 990.2 782.9 990.7 779.8 991.2 777.9 991.7 777.3 992.2 777.5 992.7 778.1 993.2 779.4 993.7 781.4 994.2 784.2 994.7 787.7 995.1 792.1 995.6 797.4 996.1 803.5 996.6 810.6 997.1 818.5 997.6 827.3 998.1 837.0 998.6 847.5 999.1 858.9 999.6 871.1 1000.1 884.1 1000.6 897.8 1001.0 912.1 1001.5 927.1 1002.0 942.7 1002.5 958.8 1003.0 975.3 1003.5 992.2 1004.0 1009.3 1004.5 1026.7 1005.0 1044.2 1005.5 1061.7 1006.0 1079.2 1006.5 1096.6 1006.9 1113.7 1007.4 1130.4 1007.9 1146.8 1008.4 1162.6 1008.9 1177.9 1009.4 1192.4 1009.9 1206.2 1010.4 1219.1 1010.9 1231.1 1011.4 1242.0 1011.9 1251.9 1012.4 1260.6 1012.8 1268.1 1013.3 1274.3 1013.8 1279.2 1014.3 1282.7 1014.8 1284.9 1015.3 1285.6 1015.8 1285.0 1016.3 1283.1 1016.8 1280.1 1017.3 1275.8 1017.8 1270.4 1018.3 1263.8 1018.8 1256.1 1019.3 1247.3 1019.8 1237.5 1020.3 1226.7 1020.8 1214.9 1021.3 1202.3 1021.8 1188.8 1022.3 1174.6 1022.8 1159.7 1023.3 1144.2 1023.8 1128.1 1024.3 1111.6 1024.8 1094.7 1025.3 1077.5 1025.8 1060.1 1026.3 1042.6 1026.7 1025.0 1027.2 1007.5 1027.7 990.1 1028.2 972.9 1028.7 956.0 1029.2 939.5 1029.7 923.4 1030.2 907.9 1030.7 893.0 1031.2 878.8 1031.7 865.3 1032.2 852.7 1032.7 840.9 1033.2 830.1 1033.7 820.3 1034.2 811.5 1034.7 803.8 1035.2 797.2 1035.7 791.8 1036.2 787.5 1036.7 784.5 1037.2 782.6 1037.7 782.0 1038.2 782.2 1038.7 782.8 1039.2 784.1 1039.7 786.1 1040.2 788.8 1040.7 792.3 1041.2 796.7 1041.7 801.9 1042.2 808.0 1042.6 814.9 1043.1 822.8 1043.6 831.5 1044.1 841.1 1044.6 851.6 1045.1 862.9 1045.6 874.9 1046.1 887.8 1046.6 901.4 1047.1 915.6 1047.6 930.5 1048.1 945.9 1048.6 961.8 1049.1 978.2 1049.6 994.9 1050.1 1011.9 1050.6 1029.1 1051.1 1046.4 1051.6 1063.8 1052.0 1081.1 1052.5 1098.3 1053.0 1115.2 1053.5 1131.9 1054.0 1148.1 1054.5 1163.8 1055.0 1178.9 1055.5 1193.3 1056.0 1206.9 1056.5 1219.7 1057.0 1231.6 1057.5 1242.4 1058.0 1252.2 1058.5 1260.8 1059.0 1268.3 1059.5 1274.4 1060.0 1279.3 1060.5 1282.8 1061.0 1284.9 1061.4 1285.6 1061.9 1285.0 1062.4 1283.3 1062.9 1280.4 1063.4 1276.4 1063.9 1271.3 1064.4 1265.1 1064.9 1257.8 1065.4 1249.5 1065.9 1240.2 1066.4 1230.0 1066.8 1218.9 1067.3 1206.9 1067.8 1194.2 1068.3 1180.7 1068.8 1166.6 1069.3 1151.8 1069.8 1136.5 1070.3 1120.8 1070.8 1104.7 1071.3 1088.2 1071.7 1071.5 1072.2 1054.7 1072.7 1037.8 1073.2 1020.9 1073.7 1004.1 1074.2 987.4 1074.7 970.9 1075.2 954.8 1075.7 939.1 1076.2 923.8 1076.6 909.0 1077.1 894.9 1077.6 881.4 1078.1 868.7 1078.6 856.7 1079.1 845.6 1079.6 835.4 1080.1 826.1 1080.6 817.8 1081.1 810.5 1081.5 804.3 1082.0 799.2 1082.5 795.2 1083.0 792.3 1083.5 790.6 1084.0 790.0 1084.5 790.2 1085.0 790.8 1085.5 792.0 1086.0 793.8 1086.5 796.4 1087.0 799.7 1087.5 803.8 1088.0 808.7 1088.5 814.4 1089.0 821.0 1089.5 828.3 1090.0 836.6 1090.4 845.6 1090.9 855.4 1091.4 866.1 1091.9 877.5 1092.4 889.6 1092.9 902.5 1093.4 916.0 1093.9 930.1 1094.4 944.7 1094.9 959.9 1095.4 975.5 1095.9 991.4 1096.4 1007.7 1096.9 1024.2 1097.4 1040.8 1097.9 1057.6 1098.4 1074.3 1098.9 1090.9 1099.4 1107.4 1099.9 1123.7 1100.4 1139.6 1100.9 1155.0 1101.4 1170.0 1101.9 1184.4 1102.3 1198.1 1102.8 1211.1 1103.3 1223.2 1103.8 1234.5 1104.3 1244.8 1104.8 1254.0 1105.3 1262.2 1105.8 1269.2 1106.3 1275.0 1106.8 1279.6 1107.3 1282.9 1107.8 1284.9 1108.3 1285.6 1108.8 1285.1 1109.3 1283.4 1109.8 1280.7 1110.3 1276.9 1110.8 1272.0 1111.2 1266.1 1111.7 1259.2 1112.2 1251.3 1112.7 1242.4 1113.2 1232.6 1113.7 1222.0 1114.2 1210.6 1114.7 1198.4 1115.2 1185.5 1115.7 1171.9 1116.2 1157.8 1116.7 1143.1 1117.1 1128.0 1117.6 1112.4 1118.1 1096.6 1118.6 1080.5 1119.1 1064.2 1119.6 1047.8 1120.1 1031.3 1120.6 1014.9 1121.1 998.6 1121.6 982.5 1122.1 966.7 1122.6 951.1 1123.0 936.0 1123.5 921.3 1124.0 907.2 1124.5 893.6 1125.0 880.7 1125.5 868.5 1126.0 857.1 1126.5 846.5 1127.0 836.7 1127.5 827.8 1128.0 819.9 1128.5 813.0 1128.9 807.1 1129.4 802.2 1129.9 798.4 1130.4 795.7 1130.9 794.0 1131.4 793.5 1131.9 793.7 1132.4 794.3 1132.9 795.6 1133.4 797.5 1133.9 800.2 1134.4 803.6 1134.9 807.9 1135.4 812.9 1135.9 818.9 1136.4 825.7 1136.9 833.4 1137.3 841.9 1137.8 851.3 1138.3 861.5 1138.8 872.5 1139.3 884.3 1139.8 896.9 1140.3 910.1 1140.8 924.0 1141.3 938.6 1141.8 953.6 1142.3 969.2 1142.8 985.2 1143.3 1001.5 1143.8 1018.2 1144.3 1035.0 1144.8 1051.9 1145.3 1068.9 1145.8 1085.8 1146.3 1102.6 1146.8 1119.1 1147.3 1135.4 1147.8 1151.2 1148.3 1166.5 1148.8 1181.3 1149.2 1195.4 1149.7 1208.7 1150.2 1221.2 1150.7 1232.8 1151.2 1243.4 1151.7 1253.0 1152.2 1261.4 1152.7 1268.7 1153.2 1274.7 1153.7 1279.4 1154.2 1282.8 1154.7 1284.9 1155.2 1285.6 1155.7 1285.0 1156.2 1283.2 1156.7 1280.3 1157.2 1276.2 1157.7 1270.9 1158.1 1264.6 1158.6 1257.1 1159.1 1248.6 1159.6 1239.1 1160.1 1228.7 1160.6 1217.3 1161.1 1205.0 1161.6 1192.0 1162.1 1178.1 1162.6 1163.6 1163.1 1148.5 1163.6 1132.9 1164.0 1116.8 1164.5 1100.2 1165.0 1083.4 1165.5 1066.3 1166.0 1049.1 1166.5 1031.8 1167.0 1014.4 1167.5 997.2 1168.0 980.1 1168.5 963.3 1169.0 946.7 1169.4 930.6 1169.9 915.0 1170.4 899.9 1170.9 885.4 1171.4 871.5 1171.9 858.5 1172.4 846.2 1172.9 834.8 1173.4 824.4 1173.9 814.9 1174.4 806.4 1174.9 798.9 1175.3 792.6 1175.8 787.3 1176.3 783.2 1176.8 780.3 1177.3 778.5 1177.8 777.9 1178.3 778.1 1178.8 778.7 1179.3 779.9 1179.8 781.8 1180.3 784.4 1180.8 787.8 1181.3 792.0 1181.8 797.0 1182.3 802.9 1182.8 809.6 1183.3 817.2 1183.8 825.6 1184.3 834.9 1184.8 844.9 1185.3 855.8 1185.8 867.5 1186.2 880.0 1186.7 893.1 1187.2 906.9 1187.7 921.4 1188.2 936.4 1188.7 951.9 1189.2 967.9 1189.7 984.2 1190.2 1000.9 1190.7 1017.8 1191.2 1034.9 1191.7 1052.0 1192.2 1069.1 1192.7 1086.2 1193.2 1103.1 1193.7 1119.7 1194.2 1136.0 1194.7 1151.8 1195.2 1167.2 1195.7 1181.9 1196.2 1196.0 1196.7 1209.3 1197.2 1221.7 1197.7 1233.2 1198.2 1243.8 1198.7 1253.3 1199.2 1261.6 1199.7 1268.8 1200.2 1274.8 1200.7 1279.5 1201.2 1282.9 1201.7 1284.9 1202.1 1285.6 1202.6 1285.0 1203.1 1283.3 1203.6 1280.4 1204.1 1276.5 1204.6 1271.4 1205.1 1265.2 1205.6 1258.0 1206.1 1249.7 1206.6 1240.5 1207.1 1230.3 1207.6 1219.2 1208.1 1207.2 1208.6 1194.5 1209.0 1181.0 1209.5 1166.8 1210.0 1152.0 1210.5 1136.7 1211.0 1120.9 1211.5 1104.6 1212.0 1088.1 1212.5 1071.2 1213.0 1054.2 1213.5 1037.0 1214.0 1019.9 1214.5 1002.7 1215.0 985.7 1215.4 968.8 1215.9 952.3 1216.4 936.0 1216.9 920.2 1217.4 904.9 1217.9 890.1 1218.4 875.9 1218.9 862.4 1219.4 849.7 1219.9 837.7 1220.4 826.6 1220.9 816.4 1221.4 807.2 1221.9 798.9 1222.3 791.7 1222.8 785.5 1223.3 780.4 1223.8 776.5 1224.3 773.6 1224.8 771.9 1225.3 771.3 1225.8 771.5 1226.3 772.1 1226.8 773.4 1227.3 775.3 1227.8 777.9 1228.3 781.4 1228.8 785.6 1229.3 790.7 1229.8 796.6 1230.3 803.4 1230.8 811.1 1231.3 819.6 1231.8 829.0 1232.3 839.2 1232.8 850.3 1233.3 862.1 1233.8 874.7 1234.3 888.0 1234.8 902.0 1235.3 916.6 1235.8 931.9 1236.3 947.6 1236.8 963.8 1237.3 980.3 1237.8 997.2 1238.3 1014.3 1238.8 1031.6 1239.3 1049.0 1239.8 1066.3 1240.3 1083.6 1240.8 1100.7 1241.3 1117.6 1241.8 1134.0 1242.3 1150.1 1242.8 1165.6 1243.3 1180.6 1243.8 1194.8 1244.3 1208.3 1244.8 1220.9 1245.3 1232.6 1245.8 1243.2 1246.3 1252.8 1246.8 1261.3 1247.3 1268.6 1247.8 1274.6 1248.3 1279.4 1248.8 1282.8 1249.3 1284.9 1249.8 1285.6 1250.2 1285.0 1250.7 1283.3 1251.2 1280.4 1251.7 1276.4 1252.2 1271.2 1252.7 1265.0 1253.2 1257.7 1253.7 1249.4 1254.2 1240.0 1254.7 1229.7 1255.2 1218.5 1255.7 1206.5 1256.2 1193.6 1256.7 1180.0 1257.2 1165.7 1257.7 1150.7 1258.2 1135.2 1258.7 1119.3 1259.1 1102.9 1259.6 1086.1 1260.1 1069.1 1260.6 1051.9 1261.1 1034.6 1261.6 1017.3 1262.1 1000.0 1262.6 982.8 1263.1 965.8 1263.6 949.0 1264.1 932.6 1264.6 916.7 1265.1 901.2 1265.6 886.2 1266.1 871.9 1266.6 858.3 1267.1 845.4 1267.6 833.4 1268.1 822.2 1268.5 811.9 1269.0 802.5 1269.5 794.2 1270.0 786.9 1270.5 780.7 1271.0 775.5 1271.5 771.5 1272.0 768.6 1272.5 766.9 1273.0 766.3 1273.5 766.5 1274.0 767.1 1274.5 768.4 1275.0 770.3 1275.5 773.0 1276.0 776.5 1276.5 780.7 1277.0 785.9 1277.5 791.9 1278.0 798.7 1278.5 806.5 1279.0 815.1 1279.5 824.6 1280.0 834.9 1280.5 846.0 1281.0 858.0 1281.5 870.7 1282.0 884.2 1282.5 898.3 1283.0 913.1 1283.5 928.4 1284.0 944.3 1284.5 960.6 1285.0 977.3 1285.5 994.4 1286.0 1011.7 1286.5 1029.1 1287.0 1046.7 1287.5 1064.2 1288.0 1081.6 1288.5 1098.9 1289.0 1115.9 1289.5 1132.6 1290.0 1148.8 1290.5 1164.5 1291.0 1179.6 1291.5 1193.9 1292.0 1207.5 1292.5 1220.2 1293.0 1232.0 1293.5 1242.8 1294.0 1252.5 1294.5 1261.1 1295.0 1268.4 1295.5 1274.5 1296.0 1279.3 1296.5 1282.8 1297.0 1284.9 1297.4 1285.6 1297.9 1285.0 1298.4 1283.3 1298.9 1280.5 1299.4 1276.5 1299.9 1271.4 1300.4 1265.2 1300.9 1258.0 1301.4 1249.8 1301.9 1240.6 1302.4 1230.4 1302.9 1219.3 1303.4 1207.4 1303.9 1194.7 1304.4 1181.2 1304.9 1167.1 1305.4 1152.3 1305.9 1137.0 1306.4 1121.2 1306.8 1105.0 1307.3 1088.5 1307.8 1071.7 1308.3 1054.7 1308.8 1037.6 1309.3 1020.4 1309.8 1003.3 1310.3 986.3 1310.8 969.5 1311.3 953.0 1311.8 936.8 1312.3 921.0 1312.8 905.7 1313.3 890.9 1313.8 876.8 1314.3 863.3 1314.8 850.6 1315.3 838.7 1315.8 827.6 1316.2 817.4 1316.7 808.2 1317.2 800.0 1317.7 792.8 1318.2 786.6 1318.7 781.5 1319.2 777.5 1319.7 774.7 1320.2 773.0 1320.7 772.4 1321.2 772.6 1321.7 773.2 1322.2 774.4 1322.7 776.2 1323.2 778.7 1323.7 782.0 1324.2 786.0 1324.7 790.9 1325.1 796.5 1325.6 803.0 1326.1 810.3 1326.6 818.5 1327.1 827.5 1327.6 837.2 1328.1 847.8 1328.6 859.1 1329.1 871.2 1329.6 884.0 1330.1 897.5 1330.6 911.5 1331.1 926.2 1331.6 941.3 1332.1 957.0 1332.6 973.0 1333.1 989.4 1333.5 1006.0 1334.0 1022.8 1334.5 1039.8 1335.0 1056.8 1335.5 1073.7 1336.0 1090.5 1336.5 1107.2 1337.0 1123.6 1337.5 1139.6 1338.0 1155.1 1338.5 1170.1 1339.0 1184.6 1339.5 1198.3 1340.0 1211.3 1340.5 1223.4 1341.0 1234.7 1341.4 1244.9 1341.9 1254.2 1342.4 1262.3 1342.9 1269.3 1343.4 1275.1 1343.9 1279.6 1344.4 1282.9 1344.9 1284.9 1345.4 1285.6 1345.9 1285.0 1346.4 1283.3 1346.9 1280.5 1347.4 1276.6 1347.9 1271.6 1348.4 1265.6 1348.9 1258.5 1349.4 1250.4 1349.9 1241.3 1350.4 1231.3 1350.9 1220.4 1351.4 1208.7 1351.9 1196.2 1352.4 1183.0 1352.9 1169.1 1353.4 1154.6 1353.9 1139.5 1354.4 1124.0 1354.9 1108.1 1355.4 1091.8 1355.9 1075.3 1356.4 1058.6 1356.9 1041.7 1357.4 1024.9 1357.9 1008.0 1358.4 991.3 1358.9 974.8 1359.4 958.5 1359.9 942.6 1360.4 927.1 1360.9 912.0 1361.4 897.5 1361.9 883.6 1362.4 870.4 1362.9 857.9 1363.4 846.2 1363.9 835.3 1364.4 825.3 1364.9 816.2 1365.4 808.1 1365.9 801.0 1366.4 795.0 1366.9 790.0 1367.4 786.1 1367.9 783.3 1368.4 781.6 1368.9 781.0 1369.4 781.2 1369.9 781.8 1370.4 783.0 1370.9 784.9 1371.4 787.5 1371.9 790.9 1372.4 795.0 1372.9 800.0 1373.4 805.8 1373.9 812.5 1374.4 820.0 1374.9 828.4 1375.4 837.6 1375.9 847.6 1376.4 858.5 1376.9 870.1 1377.4 882.4 1377.9 895.5 1378.4 909.3 1378.9 923.6 1379.4 938.5 1379.9 954.0 1380.4 969.8 1380.9 986.1 1381.4 1002.6 1381.9 1019.4 1382.4 1036.4 1382.9 1053.4 1383.4 1070.5 1383.9 1087.4 1384.4 1104.2 1384.9 1120.7 1385.4 1136.9 1385.9 1152.7 1386.4 1167.9 1386.9 1182.6 1387.4 1196.5 1387.9 1209.7 1388.4 1222.1 1388.9 1233.6 1389.4 1244.0 1389.9 1253.5 1390.4 1261.8 1390.9 1268.9 1391.4 1274.8 1391.9 1279.5 1392.4 1282.9 1392.9 1284.9 1393.4 1285.6 1393.9 1285.1 1394.4 1283.4 1394.9 1280.7 1395.4 1277.0 1395.9 1272.2 1396.4 1266.3 1396.9 1259.5 1397.4 1251.7 1397.9 1242.9 1398.4 1233.3 1398.9 1222.8 1399.3 1211.5 1399.8 1199.5 1400.3 1186.7 1400.8 1173.3 1401.3 1159.4 1401.8 1144.9 1402.3 1129.9 1402.8 1114.6 1403.3 1098.9 1403.8 1083.0 1404.3 1066.9 1404.8 1050.7 1405.3 1034.4 1405.8 1018.2 1406.3 1002.1 1406.8 986.2 1407.3 970.5 1407.8 955.2 1408.3 940.2 1408.8 925.7 1409.3 911.8 1409.8 898.4 1410.3 885.6 1410.8 873.6 1411.2 862.3 1411.7 851.8 1412.2 842.2 1412.7 833.4 1413.2 825.6 1413.7 818.8 1414.2 812.9 1414.7 808.1 1415.2 804.4 1415.7 801.7 1416.2 800.0 1416.7 799.5 1417.2 799.6 1417.7 800.2 1418.2 801.4 1418.7 803.1 1419.2 805.5 1419.7 808.6 1420.2 812.4 1420.7 817.0 1421.2 822.4 1421.7 828.5 1422.2 835.4 1422.7 843.2 1423.2 851.6 1423.7 860.9 1424.2 870.9 1424.7 881.7 1425.1 893.1 1425.6 905.2 1426.1 918.0 1426.6 931.3 1427.1 945.2 1427.6 959.5 1428.1 974.3 1428.6 989.5 1429.1 1005.0 1429.6 1020.8 1430.1 1036.7 1430.6 1052.7 1431.1 1068.8 1431.6 1084.9 1432.1 1100.8 1432.6 1116.6 1433.1 1132.1 1433.6 1147.3 1434.1 1162.0 1434.6 1176.2 1435.1 1189.9 1435.6 1202.9 1436.1 1215.2 1436.6 1226.7 1437.1 1237.3 1437.6 1247.1 1438.1 1255.8 1438.6 1263.5 1439.1 1270.1 1439.6 1275.6 1440.1 1280.0 1440.6 1283.1 1441.1 1285.0 1441.5 1285.6 1442.0 1285.1 1442.5 1283.5 1443.0 1280.9 1443.5 1277.2 1444.0 1272.6 1444.5 1266.9 1445.0 1260.3 1445.5 1252.7 1446.0 1244.3 1446.5 1234.9 1447.0 1224.7 1447.5 1213.8 1448.0 1202.0 1448.4 1189.6 1448.9 1176.6 1449.4 1163.0 1449.9 1148.8 1450.4 1134.2 1450.9 1119.1 1451.4 1103.8 1451.9 1088.2 1452.4 1072.3 1452.9 1056.3 1453.4 1040.3 1453.9 1024.3 1454.4 1008.3 1454.9 992.4 1455.3 976.8 1455.8 961.5 1456.3 946.4 1456.8 931.8 1457.3 917.7 1457.8 904.0 1458.3 891.0 1458.8 878.6 1459.3 866.8 1459.8 855.9 1460.3 845.7 1460.8 836.3 1461.3 827.9 1461.8 820.3 1462.2 813.7 1462.7 808.0 1463.2 803.4 1463.7 799.7 1464.2 797.1 1464.7 795.5 1465.2 795.0 1465.7 795.1 1466.2 795.7 1466.7 796.8 1467.2 798.5 1467.7 800.8 1468.2 803.8 1468.6 807.5 1469.1 811.9 1469.6 817.1 1470.1 823.0 1470.6 829.7 1471.1 837.2 1471.6 845.4 1472.1 854.3 1472.6 864.0 1473.1 874.4 1473.6 885.5 1474.1 897.3 1474.6 909.7 1475.0 922.7 1475.5 936.2 1476.0 950.2 1476.5 964.6 1477.0 979.5 1477.5 994.7 1478.0 1010.2 1478.5 1025.9 1479.0 1041.7 1479.5 1057.6 1480.0 1073.5 1480.5 1089.4 1480.9 1105.1 1481.4 1120.6 1481.9 1135.8 1482.4 1150.7 1482.9 1165.1 1483.4 1179.1 1483.9 1192.4 1484.4 1205.1 1484.9 1217.1 1485.4 1228.3 1485.9 1238.7 1486.4 1248.2 1486.9 1256.7 1487.3 1264.2 1487.8 1270.6 1488.3 1275.9 1488.8 1280.1 1489.3 1283.2 1489.8 1285.0 1490.3 1285.6 1490.8 1285.1 1491.3 1283.6 1491.8 1281.1 1492.3 1277.7 1492.8 1273.3 1493.3 1267.9 1493.8 1261.7 1494.3 1254.5 1494.8 1246.5 1495.3 1237.7 1495.8 1228.1 1496.3 1217.7 1496.8 1206.6 1497.3 1194.9 1497.8 1182.5 1498.3 1169.6 1498.8 1156.3 1499.3 1142.4 1499.8 1128.2 1500.3 1113.7 1500.8 1098.9 1501.3 1084.0 1501.8 1068.9 1502.2 1053.7 1502.7 1038.5 1503.2 1023.4 1503.7 1008.5 1504.2 993.7 1504.7 979.2 1505.2 965.0 1505.7 951.1 1506.2 937.8 1506.7 924.9 1507.2 912.5 1507.7 900.8 1508.2 889.7 1508.7 879.3 1509.2 869.7 1509.7 860.9 1510.2 852.9 1510.7 845.7 1511.2 839.5 1511.7 834.1 1512.2 829.7 1512.7 826.3 1513.2 823.8 1513.7 822.3 1514.2 821.8 1514.7 821.9 1515.2 822.4 1515.7 823.4 1516.2 824.9 1516.7 827.0 1517.2 829.7 1517.7 833.1 1518.2 837.1 1518.7 841.8 1519.2 847.1 1519.7 853.2 1520.2 860.0 1520.7 867.4 1521.1 875.5 1521.6 884.3 1522.1 893.8 1522.6 903.9 1523.1 914.6 1523.6 925.9 1524.1 937.7 1524.6 950.0 1525.1 962.8 1525.6 976.1 1526.1 989.7 1526.6 1003.6 1527.1 1017.9 1527.6 1032.3 1528.1 1046.9 1528.6 1061.7 1529.1 1076.4 1529.6 1091.2 1530.1 1105.8 1531.5 1180.0 1532.3 1205.0 1533.3 1222.0 1535.3 1241.0 1537.2 1256.0 1538.8 1272.0 1540.0 1283.5 1541.2 1274.0 1542.5 1262.0 1544.0 1256.0 1545.6 1250.0 1545.2 1233.0 1545.9 1224.0 1546.4 1212.0 1547.2 1195.0 1547.9 1180.0 1549.5 1117.3 1550.0 1102.0 1550.5 1086.5 1551.0 1070.8 1551.5 1055.1 1551.9 1039.4 1552.4 1023.7 1552.9 1008.2 1553.4 992.9 1553.9 977.9 1554.4 963.3 1554.9 949.1 1555.4 935.3 1555.9 922.2 1556.4 909.6 1556.9 897.8 1557.4 886.6 1557.9 876.3 1558.4 866.8 1558.9 858.2 1559.4 850.4 1559.9 843.7 1560.4 837.9 1560.9 833.1 1561.4 829.4 1561.9 826.7 1562.4 825.1 1562.9 824.6 1563.4 824.7 1563.9 825.2 1564.4 826.2 1564.9 827.7 1565.4 829.8 1565.9 832.5 1566.4 835.8 1566.9 839.8 1567.4 844.4 1567.9 849.8 1568.4 855.8 1568.9 862.5 1569.4 869.9 1569.9 878.0 1570.4 886.8 1570.9 896.2 1571.4 906.2 1571.9 916.8 1572.4 928.0 1572.9 939.8 1573.4 952.1 1573.9 964.8 1574.4 978.0 1574.9 991.5 1575.4 1005.3 1575.9 1019.5 1576.4 1033.9 1576.9 1048.4 1577.4 1063.0 1577.9 1077.7 1578.4 1092.3 1578.9 1106.9 1579.4 1121.3 1579.9 1135.5 1580.4 1149.5 1581.8 1180.0 1582.6 1200.0 1583.2 1220.0 1585.3 1241.0 1586.4 1260.0 1587.8 1274.0 1589.1 1283.5 1590.4 1274.0 1592.1 1264.0 1594.4 1258.0 1594.4 1240.0 1594.6 1228.0 1596.0 1216.0 1596.6 1200.0 1597.1 1180.0 1598.8 1118.9 1599.3 1104.5 1599.8 1090.0 1600.3 1075.4 1600.8 1060.7 1601.3 1045.9 1601.8 1031.3 1602.3 1016.8 1602.8 1002.4 1603.3 988.3 1603.8 974.6 1604.3 961.2 1604.8 948.2 1605.3 935.7 1605.8 923.7 1606.3 912.3 1606.8 901.6 1607.2 891.5 1607.7 882.2 1608.2 873.6 1608.7 865.8 1609.2 858.9 1609.7 852.8 1610.2 847.6 1610.7 843.4 1611.2 840.0 1611.7 837.6 1612.2 836.2 1612.7 835.7 1613.2 835.8 1613.7 836.3 1614.2 837.3 1614.7 838.7 1615.2 840.8 1615.7 843.4 1616.2 846.6 1616.7 850.5 1617.2 855.1 1617.7 860.3 1618.2 866.2 1618.7 872.7 1619.2 879.9 1619.7 887.8 1620.2 896.4 1620.7 905.5 1621.2 915.3 1621.7 925.7 1622.2 936.7 1622.7 948.1 1623.2 960.1 1623.7 972.5 1624.2 985.4 1624.7 998.6 1625.2 1012.1 1625.7 1025.9 1626.1 1039.9 1626.6 1054.1 1627.1 1068.4 1627.6 1082.7 1628.1 1097.0 1628.6 1111.2 1629.1 1125.3 1630.2 1180.0 1630.6 1200.0 1630.9 1214.0 1632.0 1236.0 1632.8 1249.0 1635.5 1258.0 1637.0 1272.0 1638.5 1283.5 1640.0 1274.0 1641.5 1264.0 1644.5 1261.0 1645.0 1240.0 1645.2 1224.0 1646.2 1212.0 1646.8 1196.0 1647.3 1180.0 1649.0 1113.5 1649.5 1099.7 1650.0 1085.8 1650.4 1071.8 1650.9 1057.8 1651.4 1043.9 1651.9 1030.1 1652.4 1016.5 1652.9 1003.1 1653.4 990.0 1653.9 977.2 1654.4 964.9 1654.9 953.0 1655.4 941.6 1655.9 930.8 1656.4 920.6 1656.9 911.1 1657.4 902.2 1657.9 894.0 1658.3 886.6 1658.8 880.0 1659.3 874.3 1659.8 869.3 1660.3 865.3 1660.8 862.1 1661.3 859.8 1661.8 858.5 1662.3 858.0 1662.8 858.1 1663.3 858.5 1663.8 859.3 1664.3 860.4 1664.8 862.0 1665.3 864.1 1665.8 866.7 1666.3 869.9 1666.8 873.5 1667.2 877.7 1667.7 882.4 1668.2 887.7 1668.7 893.5 1669.2 899.9 1669.7 906.8 1670.2 914.3 1670.7 922.2 1671.2 930.7 1671.7 939.7 1672.2 949.1 1672.7 959.0 1673.2 969.3 1673.7 979.9 1674.2 991.0 1674.7 1002.4 1675.2 1014.0 1675.7 1026.0 1676.2 1038.1 1676.6 1050.4 1677.1 1062.9 1677.6 1075.4 1678.1 1088.0 1678.6 1100.6 1679.1 1113.1 1679.6 1125.6 1680.1 1137.9 1680.6 1150.0 1681.1 1161.8 1681.6 1173.4 1682.1 1184.6 1682.6 1195.5 1683.1 1205.9 1683.5 1214.4 1684.5 1240.0 1685.5 1262.0 1687.8 1218.0 1689.3 1240.0 1690.5 1262.0 1692.5 1274.0 1694.4 1283.5" fill="none" stroke="#0000ff" stroke-width="6" stroke-linejoin="round" stroke-linecap="round"/>
<path d="M1537.2 1256.0L1538.8 1272.0 1540.0 1283.5 1541.2 1274.0 1542.5 1262.0 1544.0 1256.0 1545.6 1250.0" fill="none" stroke="#0000ff" stroke-width="8" stroke-linejoin="round" stroke-linecap="butt"/>
<path d="M1586.4 1260.0L1587.8 1274.0 1589.1 1283.5 1590.4 1274.0 1592.1 1264.0 1594.4 1258.0" fill="none" stroke="#0000ff" stroke-width="8" stroke-linejoin="round" stroke-linecap="butt"/>
<path d="M1632.8 1249.0L1635.5 1258.0 1637.0 1272.0 1638.5 1283.5 1640.0 1274.0 1641.5 1264.0 1644.5 1261.0" fill="none" stroke="#0000ff" stroke-width="8" stroke-linejoin="round" stroke-linecap="butt"/>
<rect x="151.2" y="43.1" width="8.0" height="1330.8000000000002" fill="#000"/>
<rect x="151.2" y="43.1" width="1642.0" height="8.4" fill="#000"/>
<rect x="151.2" y="1365.2" width="1642.0" height="8.700000000000045" fill="#000"/>
<rect x="151.2" y="373.4" width="18.7" height="8.7" fill="#000"/>
<rect x="151.2" y="703.9" width="18.7" height="8.7" fill="#000"/>
<rect x="151.2" y="1034.4" width="18.7" height="8.7" fill="#000"/>
<rect x="238.1" y="1354.1" width="7.8" height="19.8" fill="#000"/>
<rect x="410.9" y="1354.1" width="7.8" height="19.8" fill="#000"/>
<rect x="583.7" y="1354.1" width="7.8" height="19.8" fill="#000"/>
<rect x="756.5" y="1354.1" width="7.8" height="19.8" fill="#000"/>
<rect x="929.3" y="1354.1" width="7.8" height="19.8" fill="#000"/>
<rect x="1102.1" y="1354.1" width="7.8" height="19.8" fill="#000"/>
<rect x="1275.0" y="1354.1" width="7.8" height="19.8" fill="#000"/>
<rect x="1447.8" y="1354.1" width="7.8" height="19.8" fill="#000"/>
<rect x="1620.6" y="1354.1" width="7.8" height="19.8" fill="#000"/>
<rect x="1793.2" y="43.1" width="8.0" height="1330.8000000000002" fill="#0000ff"/>
<rect x="1782.8" y="1217.9" width="18.4" height="8" fill="#0000ff"/>
<rect x="1782.8" y="924.1" width="18.4" height="8" fill="#0000ff"/>
<rect x="1782.8" y="630.4" width="18.4" height="8" fill="#0000ff"/>
<rect x="1782.8" y="336.6" width="18.4" height="8" fill="#0000ff"/>
<rect x="1782.8" y="43.3" width="18.4" height="8" fill="#0000ff"/>
<g font-family="Liberation Serif, Times New Roman, serif" font-weight="bold" font-size="61.5" fill="#000" text-anchor="end">
<text x="139" y="65.6">4</text>
<text x="139" y="396.1">2</text>
<text x="139" y="726.6">0</text>
<text x="139" y="1057.1">2</text>
<text x="139" y="1387.6">4</text>
</g>
<text transform="translate(80.4 1063.59) scale(0.905 1.37)" font-family="Liberation Serif, Times New Roman, serif" font-weight="bold" font-size="61.5" fill="#000">–</text>
<text transform="translate(80.4 1394.09) scale(0.905 1.37)" font-family="Liberation Serif, Times New Roman, serif" font-weight="bold" font-size="61.5" fill="#000">–</text>
<g font-family="Liberation Serif, Times New Roman, serif" font-weight="bold" font-size="61.5" fill="#000" text-anchor="middle">
<text x="241.2" y="1432">0</text>
<text x="414.0" y="1432">200</text>
<text x="586.8" y="1432">400</text>
<text x="759.6" y="1432">600</text>
<text x="932.4" y="1432">800</text>
<text x="1105.2" y="1432">1000</text>
<text x="1278.1" y="1432">1200</text>
<text x="1450.9" y="1432">1400</text>
<text x="1623.7" y="1432">1600</text>
<text x="1796.5" y="1432">1800</text>
</g>
<g font-family="Liberation Serif, Times New Roman, serif" font-weight="bold" font-size="61.5" fill="#0000ff" text-anchor="start">
<text x="1812.5" y="1240.1">0.0</text>
<text x="1812.5" y="946.3">0.2</text>
<text x="1812.5" y="652.6">0.4</text>
<text x="1812.5" y="358.8">0.6</text>
<text x="1812.5" y="65.5">0.8</text>
</g>
<g font-family="Liberation Serif, Times New Roman, serif" font-size="76" fill="#000">
<text transform="translate(50.7 707.9) rotate(-90)" text-anchor="middle">a.u.</text>
<text transform="translate(1966.4 697.9) rotate(-90)" text-anchor="middle">a.u.</text>
</g>
<text x="975.6" y="1547.5" font-family="Liberation Serif, Times New Roman, serif" font-size="78" fill="#000" text-anchor="middle">Points</text>
<path d="M702.3 316.6H805.3" stroke="#000" stroke-width="6" stroke-linecap="round"/>
<path d="M702.3 450.2H805.3" stroke="#0000ff" stroke-width="6" stroke-linecap="round"/>
<g font-family="Liberation Serif, Times New Roman, serif" font-size="66.3" fill="#000">
<text x="821.4" y="339.1">40nm wavelength-swept laser</text>
<text x="823.1" y="472.2" font-size="66">the ECWTFL</text>
</g>
<rect x="0" y="387" width="1992" height="1" fill="#fff" fill-opacity="0.25"/>
<rect x="0" y="794" width="1992" height="1" fill="#fff" fill-opacity="0.25"/>
<rect x="0" y="1201" width="1992" height="1" fill="#fff" fill-opacity="0.25"/>
</svg>
</body></html>
